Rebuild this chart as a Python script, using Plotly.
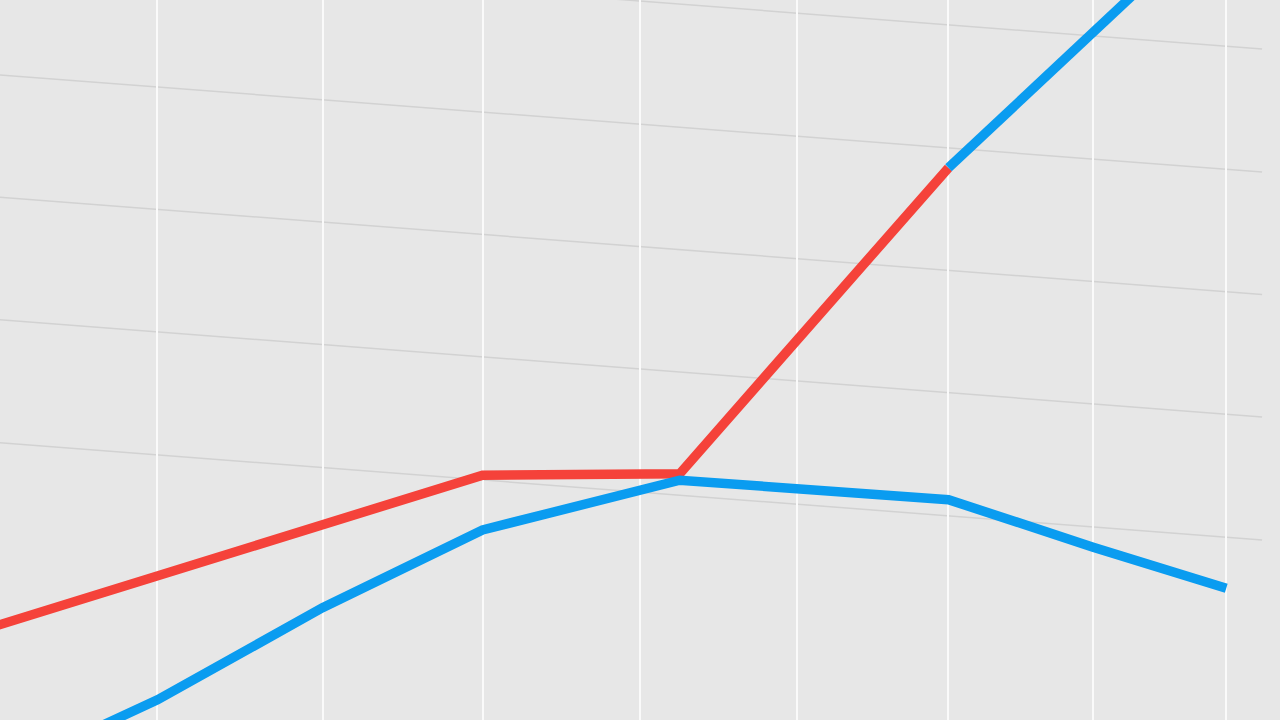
import plotly.graph_objects as go

#%% data (positions on a 0-100 scale)
red_x = [-3.9, 37.7, 53.1, 74.1]
red_y = [11.1, 34.0, 34.2, 76.7]

blue_x = [1.0, 12.3, 25.2, 37.7, 53.1, 74.1, 85.4, 95.8]
blue_y = [-6.5, 2.8, 15.6, 26.4, 33.3, 30.6, 24.0, 18.3]

# the red series carries on in blue past its last point
ext_x = [74.1, 93.8]
ext_y = [76.7, 109.5]

grid_x = [12.3, 25.2, 37.7, 50.0, 62.3, 74.1, 85.4, 95.8]
grid_levels = [106.7, 89.6, 72.6, 55.6, 38.5]
grid_drop = 13.5
grid_end = 98.6

RED = "#f5423a"
BLUE = "#0a9cf0"

fig = go.Figure()
fig.add_trace(go.Scatter(x=red_x, y=red_y, mode="lines",
                         line=dict(color=RED, width=9.5), showlegend=False))
fig.add_trace(go.Scatter(x=blue_x, y=blue_y, mode="lines",
                         line=dict(color=BLUE, width=9.5), showlegend=False))
fig.add_trace(go.Scatter(x=ext_x, y=ext_y, mode="lines",
                         line=dict(color=BLUE, width=9.5), showlegend=False))

# tilted horizontal grid
for lv in grid_levels:
    fig.add_shape(type="line", xref="x", yref="y",
                  x0=0, y0=lv, x1=grid_end, y1=lv - grid_drop,
                  line=dict(color="#d2d2d2", width=1.5), layer="below")

fig.update_xaxes(range=[0, 100], tickvals=grid_x, showticklabels=False,
                 showgrid=True, gridcolor="#fafafa", gridwidth=2,
                 zeroline=False, showline=False)
fig.update_yaxes(range=[0, 100], showticklabels=False, showgrid=False,
                 zeroline=False, showline=False)
fig.update_layout(width=1280, height=720,
                  margin=dict(l=0, r=0, t=0, b=0),
                  paper_bgcolor="#e7e7e7", plot_bgcolor="#e7e7e7")
fig.write_html("out.html", config={"displayModeBar": False},
               post_script="document.body.style.margin='0';")
